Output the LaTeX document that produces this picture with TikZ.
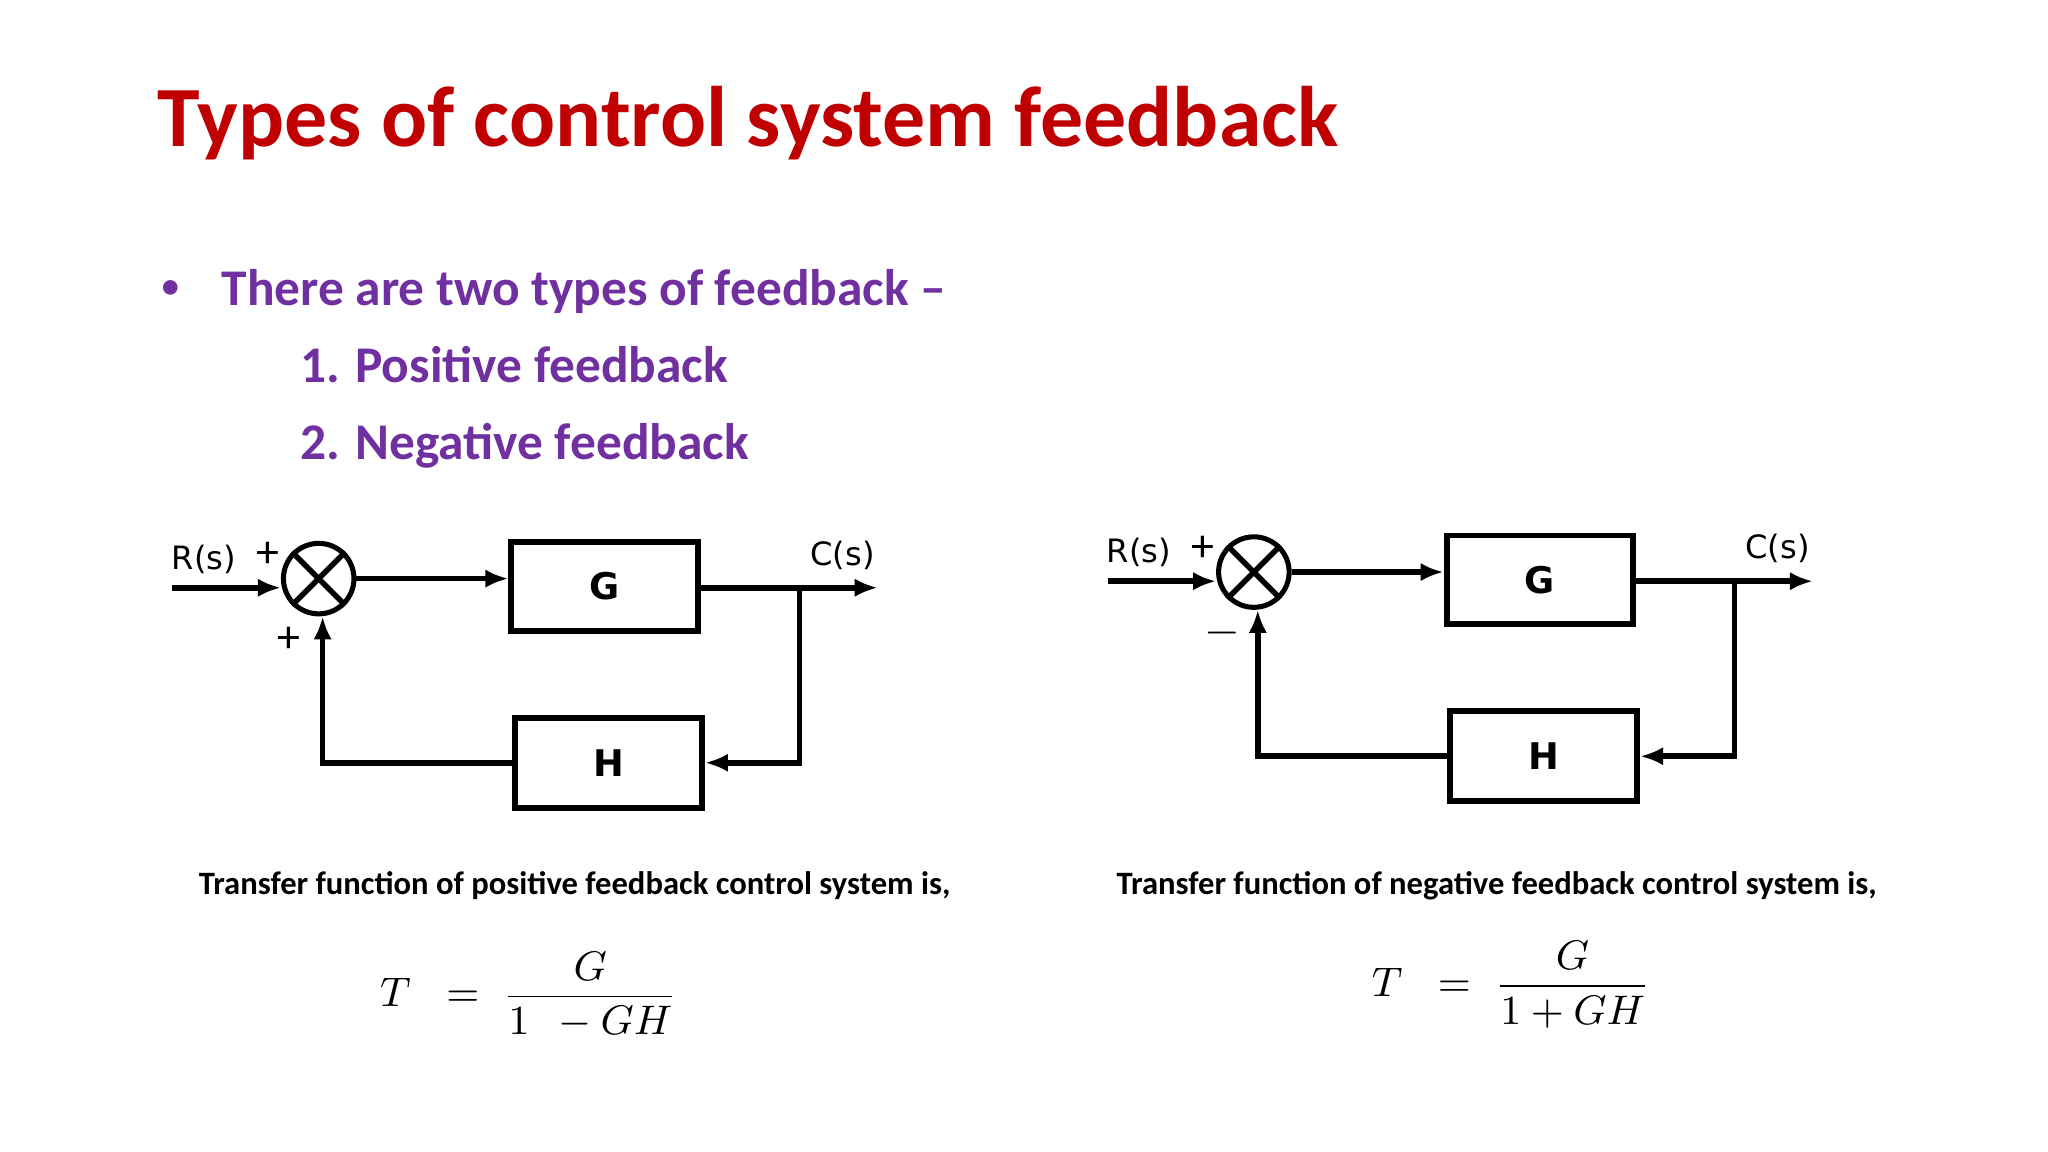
\documentclass[tikz,border=0pt]{standalone}
\usepackage{fontspec}
\setmainfont{Carlito}
\newfontfamily\diagfont{DejaVu Sans}
\usetikzlibrary{arrows.meta}
\definecolor{titred}{HTML}{C00000}
\definecolor{purp}{HTML}{7030A0}
\begin{document}
\begin{tikzpicture}[x=0.01cm,y=-0.01cm,
  blk/.style={draw,line width=1.3pt,inner sep=0pt,font=\diagfont\bfseries\fontsize{8}{9}\selectfont},
  sumc/.style={draw,circle,line width=1.1pt,minimum size=54*0.01cm,inner sep=0pt},
  ln/.style={line width=1.2pt},
  arr/.style={ln,-{Latex[length=5pt,width=4pt]}},
  lab/.style={font=\diagfont\fontsize{7}{8}\selectfont},
  sgn/.style={font=\fontsize{10}{10}\selectfont},
  pt/.style={anchor=base west,inner sep=0pt,text=purp,font=\bfseries\fontsize{11.2}{14}\selectfont}]
\useasboundingbox (0,0) rectangle (1568,882);
\node[anchor=base west,inner sep=0pt,text=titred,font=\bfseries\fontsize{18.7}{22}\selectfont] (title) at (120,112) {Types of control system feedback};
\node[pt] (b1) at (169,234) {There are two types of feedback --};
\node[text=purp,font=\fontsize{9}{9}\selectfont] (dot) at (131,222) {•};
\node[pt] (i1) at (229,293) {1. Positive feedback};
\node[pt] (i2) at (229,352) {2. Negative feedback};
\foreach \dx/\dy/\nm/\sg/\sgx/\sgy in {0/0/p/+/221/490, 716/-5/n/$-$/936/487}{
 \begin{scope}[shift={(\dx,\dy)}]
 \node[sumc] (s\nm) at (244,443) {};
 \draw[ln] (s\nm.45) -- (s\nm.225) (s\nm.135) -- (s\nm.315);
 \node[blk,minimum width=143*0.01cm,minimum height=68*0.01cm] (g\nm) at (463,449) {G};
 \node[blk,minimum width=143*0.01cm,minimum height=69*0.01cm] (h\nm) at (466,584) {H};
 \coordinate (r\nm) at (132,450);
 \coordinate (c\nm) at (672,450);
 \coordinate (t\nm) at (612,450);
 \coordinate (f\nm) at (247,584);
 \draw[arr] (r\nm) -- (s\nm.west |- r\nm);
 \draw[arr] (s\nm.east) -- (g\nm.west |- s\nm.east);
 \draw[arr] (g\nm.east |- c\nm) -- (c\nm);
 \draw[arr] (t\nm) -- (t\nm |- h\nm.east) -- (h\nm.east);
 \draw[arr] (h\nm.west) -- (f\nm) -- (s\nm.south -| f\nm);
 \node[lab] (rl\nm) at (156,428) {R(s)};
 \node[lab] (cl\nm) at (645,425) {C(s)};
 \node[sgn] (sa\nm) at (205,425) {+};
 \end{scope}}
\node[sgn] (sbp) at (221,490) {+};
\node[sgn] (sbn) at (936,485) {$-$};
\node[font=\bfseries\fontsize{7.1}{9}\selectfont] (capp) at (440,678) {Transfer function of positive feedback control system is,};
\node[font=\bfseries\fontsize{7.1}{9}\selectfont] (capn) at (1146,678) {Transfer function of negative feedback control system is,};
\node[font=\fontsize{9}{11}\selectfont] (fp) at (405,762) {$\displaystyle T\;\;=\;\frac{G}{1\;\,-GH}$};
\node[font=\fontsize{9}{11}\selectfont] (fn) at (1157,754) {$\displaystyle T\;\;=\;\frac{G}{1+GH}$};
\end{tikzpicture}
\end{document}
